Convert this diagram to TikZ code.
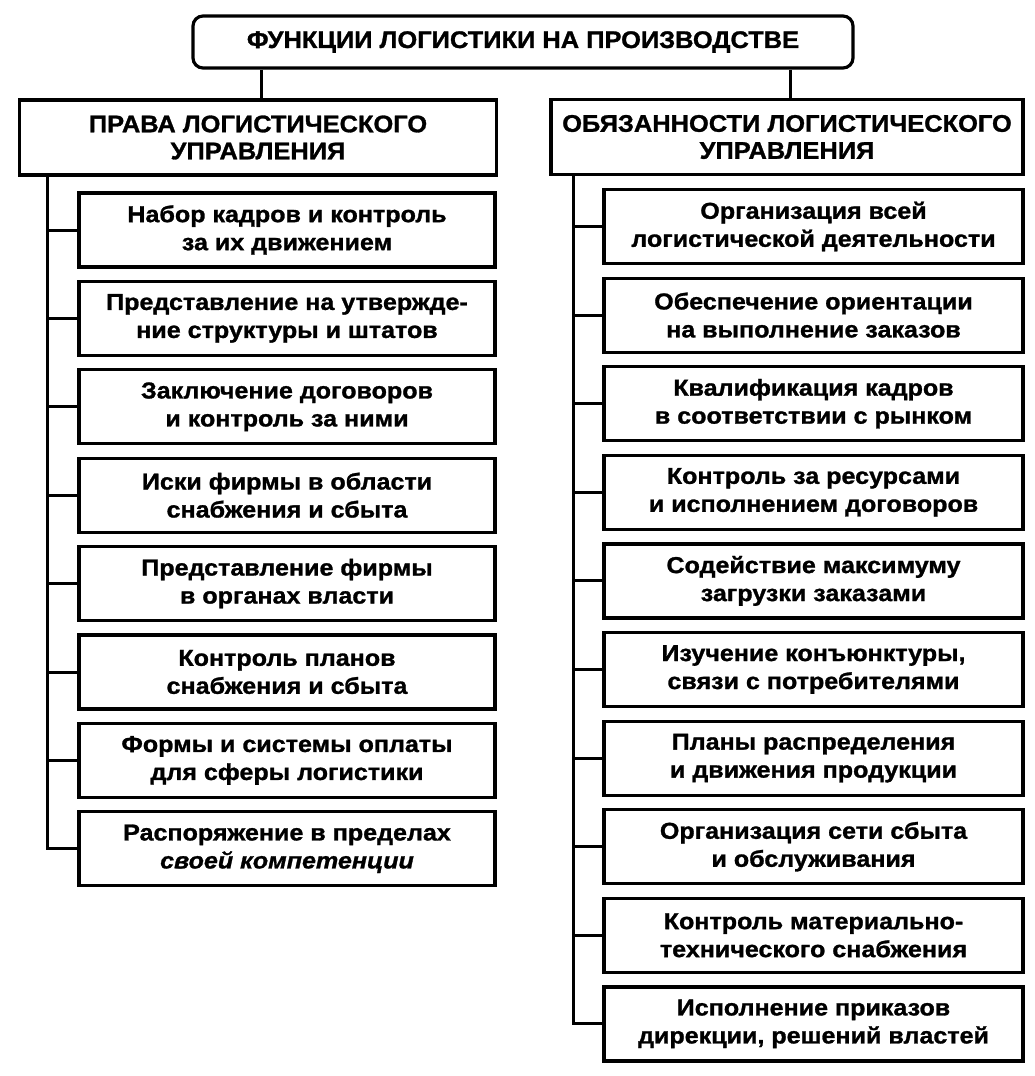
\documentclass[tikz,border=0pt]{standalone}
\usepackage{fontspec}
\setmainfont{Liberation Sans}[FakeStretch=1.09,FakeBold=1.2]
\newfontfamily\headfont{Liberation Sans}[FakeStretch=1.06,FakeBold=1.2]
\begin{document}
\begin{tikzpicture}[x=1pt,y=-1pt,
  box/.style={draw,line width=3.2pt,rectangle,inner sep=0pt,align=center,
    font=\fontsize{23}{28}\selectfont\bfseries},
  lbox/.style={box,minimum width=416pt,minimum height=74pt},
  rbox/.style={box,minimum width=419pt,minimum height=74pt},
  hbox/.style={draw,line width=3.2pt,rectangle,inner sep=0pt,align=center,
    font=\fontsize{24}{27}\selectfont\headfont\bfseries,minimum height=75pt},
  conn/.style={line width=3pt}]
\useasboundingbox (0,0) rectangle (1035,1076);
\node[draw,line width=3.2pt,rounded corners=10pt,minimum width=660pt,minimum height=52pt,
  font=\fontsize{24}{28}\selectfont\headfont\bfseries] (top) at (523,42) {ФУНКЦИИ ЛОГИСТИКИ НА ПРОИЗВОДСТВЕ};
\node[hbox,minimum width=477pt] (lh) at (258,137.5) {ПРАВА ЛОГИСТИЧЕСКОГО\\УПРАВЛЕНИЯ};
\node[hbox,minimum width=472pt] (rh) at (787,137) {ОБЯЗАННОСТИ ЛОГИСТИЧЕСКОГО\\УПРАВЛЕНИЯ};
\draw[conn] (top.south -| 261,0) -- (lh.north -| 261,0);
\draw[conn] (top.south -| 790,0) -- (rh.north -| 790,0);
% left boxes
\node[lbox] (l1) at (287,230) {Набор кадров и контроль\\за их движением};
\node[lbox] (l2) at (287,318.4) {Представление на утвержде-\\ние структуры и штатов};
\node[lbox] (l3) at (287,406.8) {Заключение договоров\\и контроль за ними};
\node[lbox] (l4) at (287,495.2) {Иски фирмы в области\\снабжения и сбыта};
\node[lbox] (l5) at (287,583.6) {Представление фирмы\\в органах власти};
\node[lbox] (l6) at (287,672) {Контроль планов\\снабжения и сбыта};
\node[lbox] (l7) at (287,760.4) {Формы и системы оплаты\\для сферы логистики};
\node[lbox] (l8) at (287,848.8) {Распоряжение в пределах\\\textit{своей компетенции}};
% right boxes
\node[rbox] (r1) at (813.5,226.5) {Организация всей\\логистической деятельности};
\node[rbox] (r2) at (813.5,315.1) {Обеспечение ориентации\\на выполнение заказов};
\node[rbox] (r3) at (813.5,403.7) {Квалификация кадров\\в соответствии с рынком};
\node[rbox] (r4) at (813.5,492.3) {Контроль за ресурсами\\и исполнением договоров};
\node[rbox] (r5) at (813.5,580.9) {Содействие максимуму\\загрузки заказами};
\node[rbox] (r6) at (813.5,669.5) {Изучение конъюнктуры,\\связи с потребителями};
\node[rbox] (r7) at (813.5,758.1) {Планы распределения\\и движения продукции};
\node[rbox] (r8) at (813.5,846.7) {Организация сети сбыта\\и обслуживания};
\node[rbox] (r9) at (813.5,935.3) {Контроль материально-\\технического снабжения};
\node[rbox] (r10) at (813.5,1023.9) {Исполнение приказов\\дирекции, решений властей};
% trunks
\coordinate (lt) at (47,0);
\coordinate (rt) at (573,0);
\draw[conn,line cap=rect] (lh.south -| lt) |- (l8.west);
\foreach \i in {1,...,7} \draw[conn] (l\i.west -| lt) -- (l\i.west);
\draw[conn,line cap=rect] (rh.south -| rt) |- (r10.west);
\foreach \i in {1,...,9} \draw[conn] (r\i.west -| rt) -- (r\i.west);
\end{tikzpicture}
\end{document}
